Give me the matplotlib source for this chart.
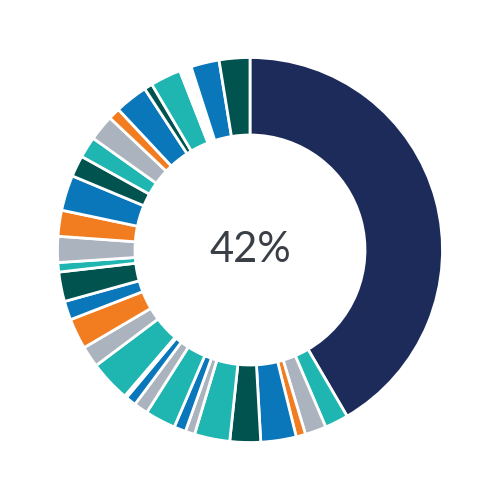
import matplotlib.pyplot as plt

NAVY = "#1d2b5a"
TEAL = "#1fb5b0"
GRAY = "#abb3be"
ORANGE = "#f27d20"
BLUE = "#0a77bb"
GREEN = "#00534f"
WHITE = "#ffffff"

values = [42, 2.0, 1.8, 0.8, 3.0, 2.6, 3.0, 0.8, 1.0, 2.6, 1.2, 0.9, 0.2, 3.5, 1.8,
          2.6, 1.6, 2.5, 0.8, 2.2, 2.2, 3.0, 1.8, 1.8, 2.2, 1.0, 2.8, 0.7, 2.6,
          1.0, 2.4, 2.6]
colors = [NAVY, TEAL, GRAY, ORANGE, BLUE, GREEN, TEAL, GRAY, BLUE, TEAL, GRAY, BLUE,
          GREEN, TEAL, GRAY, ORANGE, BLUE, GREEN, TEAL, GRAY, ORANGE, BLUE, GREEN,
          TEAL, GRAY, ORANGE, BLUE, GREEN, TEAL, WHITE, BLUE, GREEN]
center_label = "42%"

fig, ax = plt.subplots(figsize=(5, 5), dpi=100)
fig.subplots_adjust(0, 0, 1, 1)
ax.pie(values, colors=colors, startangle=90, counterclock=False, radius=0.77,
       wedgeprops=dict(width=0.31, edgecolor="white", linewidth=2))
ax.text(0, 0, center_label, ha="center", va="center", fontsize=30,
        color="#3a3f47", family="Lato")
ax.set_xlim(-1, 1)
ax.set_ylim(-1, 1)
ax.set_aspect("equal")
ax.axis("off")
fig.savefig("out.png", dpi=100)
